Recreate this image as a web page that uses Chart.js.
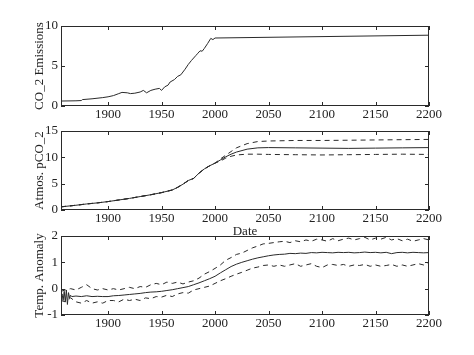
<!DOCTYPE html>
<html><head><meta charset="utf-8">
<script src="https://cdn.jsdelivr.net/npm/chart.js@4/dist/chart.umd.min.js"></script>
<style>
html,body{margin:0;padding:0;background:#fff;width:474px;height:355px;overflow:hidden}
canvas{position:absolute;left:0}
</style></head><body>
<canvas id="c1" width="474" height="125" style="top:0"></canvas>
<canvas id="c2" width="474" height="118" style="top:125px"></canvas>
<canvas id="c3" width="474" height="125" style="top:230px"></canvas>
<script>
// ---- data ----
const xTickValues = [1900, 1950, 2000, 2050, 2100, 2150, 2200];
const emisTicks = [0, 5, 10];
const pco2Ticks = [0, 5, 10, 15];
const tempTicks = [-1, 0, 1, 2];

const emisYears  = [1856,1870,1875,1876,1885,1895,1900,1905,1910,1913,1918,1921,1925,1930,1933,1936,1940,1944,1948,1950,1953,1956,1958,1962,1965,1968,1972,1975,1978,1980,1982,1984,1986,1988,1990,1993,1996,1998,2000,2200];
const emisValues = [0.62,0.65,0.68,0.8,0.9,1.05,1.15,1.3,1.55,1.7,1.65,1.55,1.6,1.75,1.95,1.65,1.95,2.1,2.2,1.95,2.4,2.6,3.0,3.3,3.7,3.9,4.6,5.2,5.7,6.0,6.3,6.6,6.9,6.85,7.2,7.8,8.45,8.3,8.5,8.85];

const pco2Years = [1856,1870,1880,1890,1900,1910,1920,1930,1940,1950,1960,1965,1970,1975,1980,1985,1990,1995,2000,2005,2010,2015,2020,2030,2040,2050,2075,2100,2125,2150,2175,2200];
const pco2Mean  = [0.6,0.9,1.15,1.35,1.6,1.9,2.2,2.55,2.9,3.3,3.8,4.3,4.9,5.6,6.0,7.0,7.8,8.4,8.9,9.5,10.1,10.6,11.0,11.55,11.8,11.85,11.8,11.75,11.7,11.75,11.8,11.85];
const pco2Upper = [0.6,0.9,1.15,1.35,1.6,1.9,2.2,2.55,2.9,3.3,3.8,4.3,4.9,5.6,6.0,7.0,7.8,8.4,8.9,9.7,10.4,11.1,11.8,12.6,13.0,13.1,13.2,13.2,13.25,13.3,13.35,13.4];
const pco2Lower = [0.6,0.9,1.15,1.35,1.6,1.9,2.2,2.55,2.9,3.3,3.8,4.3,4.9,5.6,6.0,7.0,7.8,8.4,8.9,9.3,9.85,10.2,10.45,10.6,10.6,10.55,10.5,10.45,10.5,10.55,10.6,10.55];

const tempYears = [1856,1857,1858,1859,1860,1861,1862,1863,1864,1865,1866,
  1870,1875,1880,1885,1890,1895,1900,1905,1910,1915,
  1920,1925,1930,1935,1940,1945,1950,1955,1960,1965,
  1970,1975,1980,1985,1990,1995,2000,2005,2010,2015,
  2020,2025,2030,2035,2040,2045,2050,2055,2060,2065,
  2070,2075,2080,2085,2090,2095,2100,2105,2110,2115,
  2120,2125,2130,2135,2140,2145,2150,2155,2160,2165,
  2170,2175,2180,2185,2190,2195,2200];
const tempMean = [-0.3,-0.2,-0.45,-0.1,-0.5,-0.05,-0.6,-0.15,-0.35,-0.25,-0.3,
  -0.28,-0.3,-0.27,-0.3,-0.29,-0.3,-0.3,-0.27,-0.26,-0.24,
  -0.22,-0.2,-0.18,-0.15,-0.13,-0.12,-0.1,-0.07,-0.04,0.0,
  0.04,0.08,0.15,0.22,0.3,0.38,0.47,0.6,0.72,0.84,
  0.93,1.0,1.06,1.12,1.17,1.21,1.25,1.28,1.3,1.31,
  1.34,1.33,1.35,1.34,1.37,1.36,1.38,1.37,1.36,1.38,
  1.37,1.38,1.36,1.37,1.39,1.37,1.38,1.36,1.38,1.33,
  1.37,1.38,1.36,1.38,1.37,1.36,1.37];

const bandYears = [1856,1860,1865,1870,1875,1880,1885,1890,1895,1900,
  1905,1910,1915,1920,1925,1930,1935,1940,1945,1950,
  1955,1960,1965,1970,1975,1980,1985,1990,1995,2000,
  2005,2010,2015,2020,2025,2030,2035,2040,2045,2050,
  2055,2060,2065,2070,2075,2080,2085,2090,2095,2100,
  2105,2110,2115,2120,2125,2130,2135,2140,2145,2150,
  2155,2160,2165,2170,2175,2180,2185,2190,2195,2200];
const tempUpper = [-0.1,-0.05,0.0,-0.05,0.05,0.15,0.0,-0.05,0.0,-0.05,
  0.0,-0.05,0.0,0.05,0.0,0.08,0.05,0.15,0.2,0.15,
  0.25,0.2,0.25,0.18,0.25,0.3,0.4,0.55,0.65,0.77,
  0.9,1.08,1.18,1.3,1.35,1.45,1.55,1.62,1.7,1.72,
  1.75,1.78,1.8,1.75,1.82,1.78,1.85,1.8,1.88,1.85,
  1.8,1.9,1.82,1.88,1.92,1.85,1.9,1.95,1.85,1.92,
  1.88,1.95,1.85,1.9,1.82,1.88,1.8,1.85,1.9,1.85];
const tempLower = [-0.45,-0.5,-0.35,-0.5,-0.55,-0.45,-0.55,-0.5,-0.55,-0.45,
  -0.45,-0.5,-0.4,-0.45,-0.4,-0.45,-0.35,-0.38,-0.3,-0.32,
  -0.25,-0.3,-0.2,-0.15,-0.17,-0.05,0.0,0.05,0.1,0.2,
  0.3,0.38,0.47,0.55,0.62,0.7,0.78,0.82,0.88,0.9,
  0.85,0.9,0.85,0.9,0.95,0.85,0.9,0.95,0.85,0.8,
  0.9,0.92,0.88,0.92,0.85,0.9,0.88,0.92,0.85,0.9,
  0.85,0.88,0.92,0.85,0.9,0.85,0.9,0.95,0.9,1.0];

// ---- chart setup ----
Chart.defaults.font.family = '"Liberation Serif", "Times New Roman", serif';
Chart.defaults.font.size = 13;
Chart.defaults.color = '#222';
const INK = '#2a2a2a';
const LEFT = 61, RIGHT_PAD = 474 - 429;

const pts = (xs, ys) => xs.map((x, i) => ({x, y: ys[i]}));

const frame = {
  id: 'frame',
  afterDraw(chart) {
    const {ctx, chartArea: a, scales: {x, y}} = chart;
    ctx.save();
    ctx.strokeStyle = INK; ctx.lineWidth = 1;
    ctx.strokeRect(Math.round(a.left) + 0.5, Math.round(a.top) + 0.5,
      Math.round(a.right - a.left) - 1, Math.round(a.bottom - a.top) - 1);
    ctx.beginPath();
    const L = 4;
    x.ticks.forEach(t => {
      const px = Math.round(x.getPixelForValue(t.value)) + 0.5;
      ctx.moveTo(px, a.bottom); ctx.lineTo(px, a.bottom - L);
      ctx.moveTo(px, a.top); ctx.lineTo(px, a.top + L);
    });
    y.ticks.forEach(t => {
      const py = Math.round(y.getPixelForValue(t.value)) + 0.5;
      ctx.moveTo(a.left, py); ctx.lineTo(a.left + L, py);
      ctx.moveTo(a.right, py); ctx.lineTo(a.right - L, py);
    });
    ctx.stroke();
    ctx.restore();
  }
};

function makeChart(id, datasets, yMin, yMax, yTicks, yTitle, padTop, xHeight, xTitle) {
  return new Chart(document.getElementById(id), {
    type: 'line',
    data: {datasets},
    options: {
      responsive: false, animation: false,
      layout: {padding: {left: 0, right: RIGHT_PAD, top: padTop, bottom: 0}},
      plugins: {legend: {display: false}, tooltip: {enabled: false}},
      elements: {point: {radius: 0}, line: {tension: 0, borderWidth: 1}},
      scales: {
        x: {
          type: 'linear', min: 1856, max: 2200,
          grid: {display: false, drawTicks: false}, border: {display: false},
          ticks: {padding: 1, maxRotation: 0, autoSkip: false, color: '#222', callback: v => String(v)},
          title: xTitle ? {display: true, text: xTitle, padding: {top: 0, bottom: 4}, color: '#222'} : {display: false},
          afterBuildTicks: s => { s.ticks = xTickValues.map(v => ({value: v})); },
          afterFit: s => { s.height = xHeight; s.paddingLeft = 0; s.paddingRight = 0; }
        },
        y: {
          type: 'linear', min: yMin, max: yMax,
          grid: {display: false, drawTicks: false}, border: {display: false},
          ticks: {padding: 3, color: '#222', callback: v => String(v)},
          title: {display: true, text: yTitle, padding: {top: 32, bottom: 0}, color: '#222'},
          afterBuildTicks: s => { s.ticks = yTicks.map(v => ({value: v})); },
          afterFit: s => { s.width = LEFT; s.paddingTop = 0; s.paddingBottom = 0; }
        }
      }
    },
    plugins: [frame]
  });
}

const solid = (data) => ({data, borderColor: INK, borderWidth: 1, fill: false});
const dashed = (data) => ({data, borderColor: INK, borderWidth: 1, borderDash: [5, 4], fill: false});

makeChart('c1', [solid(pts(emisYears, emisValues))], 0, 10, emisTicks, 'CO_2 Emissions', 26, 19, null);
makeChart('c2', [
  solid(pts(pco2Years, pco2Mean)),
  dashed(pts(pco2Years, pco2Upper)),
  dashed(pts(pco2Years, pco2Lower))
], 0, 15, pco2Ticks, 'Atmos. pCO_2', 6, 33, 'Date');
makeChart('c3', [
  solid(pts(tempYears, tempMean)),
  dashed(pts(bandYears, tempUpper)),
  dashed(pts(bandYears, tempLower))
], -1, 2, tempTicks, 'Temp. Anomaly', 6, 40, null);
</script>
</body></html>
